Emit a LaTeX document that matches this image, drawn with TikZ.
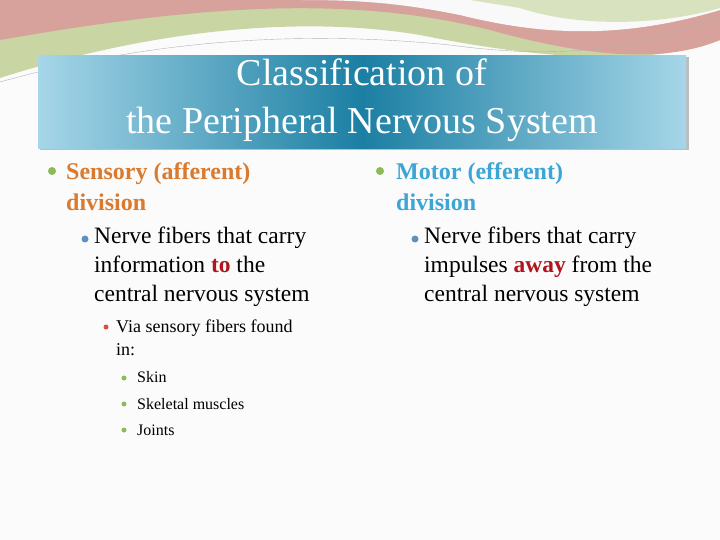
\documentclass[tikz,border=0pt]{standalone}
\usepackage{fontspec}
\setmainfont{Liberation Serif}
\usetikzlibrary{shadows}
\definecolor{orng}{HTML}{DA7A2E}
\definecolor{mblue}{HTML}{3BA6D6}
\definecolor{dred}{HTML}{B0141E}
\definecolor{bgreen}{HTML}{8DBB5A}
\definecolor{bblue}{HTML}{5E90C2}
\definecolor{bred}{HTML}{D9504A}
\definecolor{bandpink}{HTML}{D7A29C}
\definecolor{bandgreen}{HTML}{C9D6A4}
\definecolor{teal}{HTML}{1B7FA3}
\definecolor{lteal}{HTML}{A6D6E8}
\tikzset{
 x=1pt,y=-1pt,
 t1/.style={anchor=west,font=\fontsize{24}{31}\selectfont\bfseries,inner sep=0},
 t2/.style={anchor=west,font=\fontsize{23.5}{29}\selectfont,inner sep=0},
 t3/.style={anchor=west,font=\fontsize{18}{23}\selectfont,inner sep=0},
 t4/.style={anchor=west,font=\fontsize{16}{19}\selectfont,inner sep=0},
 dot/.style={circle,inner sep=0,minimum size=#1}
}
\begin{document}
\begin{tikzpicture}
\useasboundingbox (0,0) rectangle (720,540);
\fill[white!97!gray] (0,0) rectangle (720,540);
% top swooshes
\fill[bandgreen] (0,0) -- (720,0) -- (720,40) .. controls (640,70) and (520,55) .. (420,35) .. controls (300,15) and (150,30) .. (0,78) -- cycle;
\fill[bandpink] (0,0) -- (720,0) -- (720,40) .. controls (660,65) and (580,55) .. (490,30) .. controls (350,-5) and (200,5) .. (0,40) -- cycle;
\fill[white!95!gray] (300,0) -- (720,0) -- (720,10) .. controls (620,40) and (540,35) .. (460,15) .. controls (400,3) and (360,0) .. (300,0) -- cycle;
\fill[bandgreen!70] (470,0) -- (720,0) -- (720,8) .. controls (650,28) and (570,25) .. (520,8) -- cycle;
\draw[gray!60] (0,82) .. controls (150,40) and (300,30) .. (450,45);
\draw[gray!60] (450,45) .. controls (560,60) and (640,50) .. (720,15);
% title box
\node[inner sep=0,minimum width=648,minimum height=93,anchor=north west,
  left color=lteal,right color=lteal,middle color=teal,drop shadow={opacity=0.5}] (tb) at (38,55) {};
\node[text=white,font=\fontsize{38}{48}\selectfont,align=center] (title) at (362,100) {Classification of\\the Peripheral Nervous System};
% left column
\node[dot=8,fill=bgreen] (b1) at (52,171) {};
\node[t1,text=orng,align=left] (s1) at (66,187) {Sensory (afferent)\\division};
\node[dot=7,fill=bblue] (b2) at (85,239) {};
\node[t2,align=left] (s2) at (94,267) {Nerve fibers that carry\\information \textbf{\textcolor{dred}{to}} the\\central nervous system};
\node[dot=5,fill=bred] (b3) at (106,327) {};
\node[t3,align=left] (s3) at (116,338) {Via sensory fibers found\\in:};
\node[dot=5,fill=bgreen] (b4) at (124,378) {};
\node[t4] (s4) at (137,377) {Skin};
\node[dot=5,fill=bgreen] (b5) at (124,404) {};
\node[t4] (s5) at (137,404) {Skeletal muscles};
\node[dot=5,fill=bgreen] (b6) at (124,430) {};
\node[t4] (s6) at (137,430) {Joints};
% right column
\node[dot=8,fill=bgreen] (c1) at (380,171) {};
\node[t1,text=mblue,align=left] (m1) at (396,187) {Motor (efferent)\\division};
\node[dot=7,fill=bblue] (c2) at (415,239) {};
\node[t2,align=left] (m2) at (424,267) {Nerve fibers that carry\\impulses \textbf{\textcolor{dred}{away}} from the\\central nervous system};
\end{tikzpicture}
\end{document}
